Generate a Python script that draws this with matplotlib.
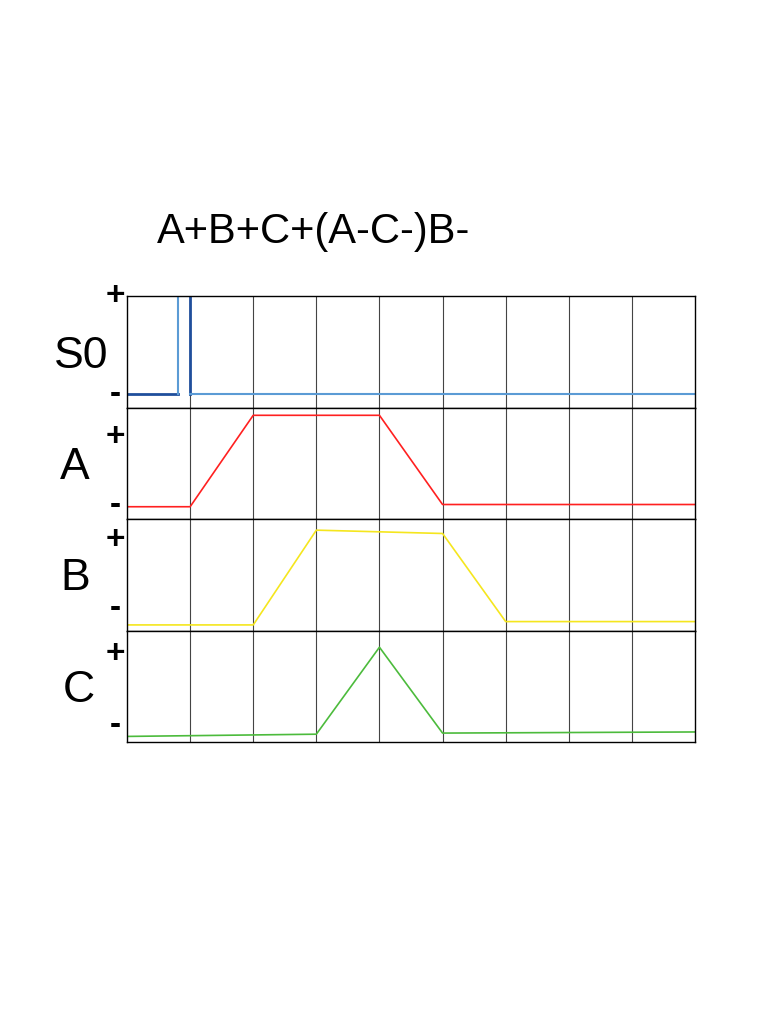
import matplotlib.pyplot as plt

# step positions (0..9) and level (0..1 within each row)
s0_x = [0, 0.81, 0.81, 1.0, 1.0, 9]
s0_y = [0.12, 0.12, 1.0, 1.0, 0.12, 0.12]
a_x = [0, 1, 2, 4, 5, 9]
a_y = [0.11, 0.11, 0.93, 0.93, 0.13, 0.13]
b_x = [0, 2, 3, 5, 6, 9]
b_y = [0.05, 0.05, 0.90, 0.87, 0.08, 0.08]
c_x = [0, 3, 4, 5, 9]
c_y = [0.05, 0.07, 0.85, 0.08, 0.09]

rows = [("S0", s0_x, s0_y, "#5b9bd5"),
        ("A", a_x, a_y, "#ff2020"),
        ("B", b_x, b_y, "#f5e61e"),
        ("C", c_x, c_y, "#4cbb3c")]
label_x = [81, 75, 75, 79]

fig = plt.figure(figsize=(7.68, 10.24), dpi=100)
fam = ["Liberation Sans", "DejaVu Sans"]
left, right, top, bottom = 127/768, 695/768, 1-296/1024, 1-742/1024
h = (top - bottom) / 4

for i, (name, xs, ys, col) in enumerate(rows):
    ax = fig.add_axes([left, top - (i+1)*h, right-left, h])
    ax.set_xlim(0, 9)
    ax.set_ylim(0, 1)
    for k in range(1, 9):
        ax.axvline(k, color="#444444", lw=0.8)
    if i == 0:
        ax.plot(xs[:2], ys[:2], color="#1f4e9c", lw=2)
        ax.plot(xs[1:4], ys[1:4], color=col, lw=1.5)
        ax.plot(xs[3:5], ys[3:5], color="#1f4e9c", lw=2)
        ax.plot(xs[4:], ys[4:], color=col, lw=1.5)
    else:
        ax.plot(xs, ys, color=col, lw=1.2)
    ax.set_xticks([])
    ax.set_yticks([])
    for s in ax.spines.values():
        s.set_linewidth(1)
    yc = 1 - (296 + 111.5*i + 60) / 1024
    fig.text(label_x[i]/768, yc, name, fontsize=32, family=fam, ha="center", va="center")
    fig.text(115/768, 1 - (296 + 111.5*i + [0, 30, 22, 24][i]) / 1024, "+",
             fontsize=24, fontweight="bold", family=fam, ha="center", va="center")
    fig.text(115/768, 1 - (296 + 111.5*i + [98, 98, 90, 95][i]) / 1024, "-",
             fontsize=24, fontweight="bold", family=fam, ha="center", va="center")

fig.text(157/768, 1-232/1024, "A+B+C+(A-C-)B-", fontsize=30, family=fam,
         ha="left", va="center")

fig.savefig("out.png", dpi=100)
